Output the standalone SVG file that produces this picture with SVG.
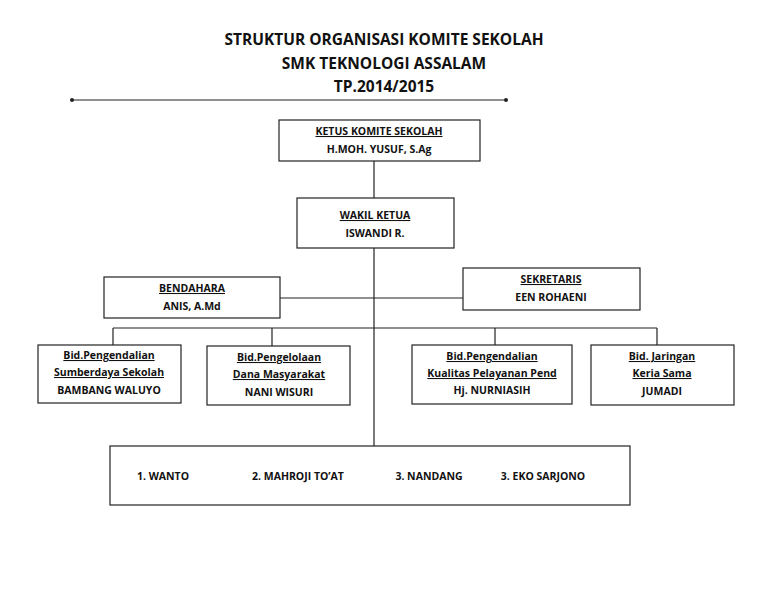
<svg xmlns="http://www.w3.org/2000/svg" width="768" height="594" viewBox="0 0 768 594">
<style>
text{font-family:"Open Sans","Liberation Sans",sans-serif;font-weight:bold;fill:#111;text-anchor:middle;font-size:10.5px}
.t{font-size:15.5px}
.u{text-decoration:underline}
rect{fill:#fff;stroke:#222;stroke-width:1.2}
line{stroke:#222;stroke-width:1.2}
</style>
<rect x="0" y="0" width="768" height="594" style="stroke:none"/>
<g id="title">
<text class="t" x="384" y="45">STRUKTUR  ORGANISASI  KOMITE SEKOLAH</text>
<text class="t" x="384" y="69">SMK  TEKNOLOGI  ASSALAM</text>
<text class="t" x="384" y="92">TP.2014/2015</text>
<line x1="72" y1="100" x2="506" y2="100"/>
<circle cx="72" cy="100" r="2" fill="#222"/><circle cx="506" cy="100" r="2" fill="#222"/>
</g>
<g id="connectors">
<line x1="374" y1="161" x2="374" y2="198"/>
<line x1="374" y1="248" x2="374" y2="446"/>
<line x1="280" y1="298" x2="463" y2="298"/>
<line x1="113" y1="328" x2="657" y2="328"/>
<line x1="113" y1="328" x2="113" y2="345"/>
<line x1="272" y1="328" x2="272" y2="346"/>
<line x1="495" y1="328" x2="495" y2="345"/>
<line x1="657" y1="328" x2="657" y2="345"/>
</g>
<g id="ketua"><rect x="279" y="120" width="201" height="41"/>
<text class="u" x="379" y="135">KETUS  KOMITE SEKOLAH</text><text x="379" y="153">H.MOH. YUSUF, S.Ag</text></g>
<g id="wakil"><rect x="297" y="198" width="157" height="50"/>
<text class="u" x="375" y="219">WAKIL  KETUA</text><text x="375" y="237">ISWANDI  R.</text></g>
<g id="bendahara"><rect x="104" y="277" width="176" height="41"/>
<text class="u" x="192" y="292">BENDAHARA</text><text x="192" y="310">ANIS, A.Md</text></g>
<g id="sekretaris"><rect x="463" y="268" width="177" height="42"/>
<text class="u" x="551" y="283">SEKRETARIS</text><text x="551" y="301">EEN  ROHAENI</text></g>
<g id="bid1"><rect x="38" y="345" width="143" height="58"/>
<text class="u" x="109" y="359">Bid.Pengendalian </text><text class="u" x="109" y="376">Sumberdaya Sekolah</text><text x="109" y="394">BAMBANG WALUYO</text></g>
<g id="bid2"><rect x="207" y="346" width="143" height="59"/>
<text class="u" x="279" y="361">Bid.Pengelolaan </text><text class="u" x="279" y="378">Dana  Masyarakat</text><text x="279" y="396">NANI  WISURI</text></g>
<g id="bid3"><rect x="412" y="345" width="160" height="59"/>
<text class="u" x="492" y="360">Bid.Pengendalian </text><text class="u" x="492" y="377">Kualitas  Pelayanan Pend</text><text x="492" y="394">Hj. NURNIASIH</text></g>
<g id="bid4"><rect x="591" y="345" width="143" height="60"/>
<text class="u" x="662" y="360">Bid. Jaringan </text><text class="u" x="662" y="377">Keria  Sama</text><text x="662" y="395">JUMADI</text></g>
<g id="anggota"><rect x="110" y="446" width="520" height="59"/>
<text x="163" y="480">1.   WANTO</text><text x="298" y="480">2. MAHROJI  TO’AT</text><text x="429" y="480">3. NANDANG</text><text x="543" y="480">3. EKO SARJONO</text></g>
</svg>
